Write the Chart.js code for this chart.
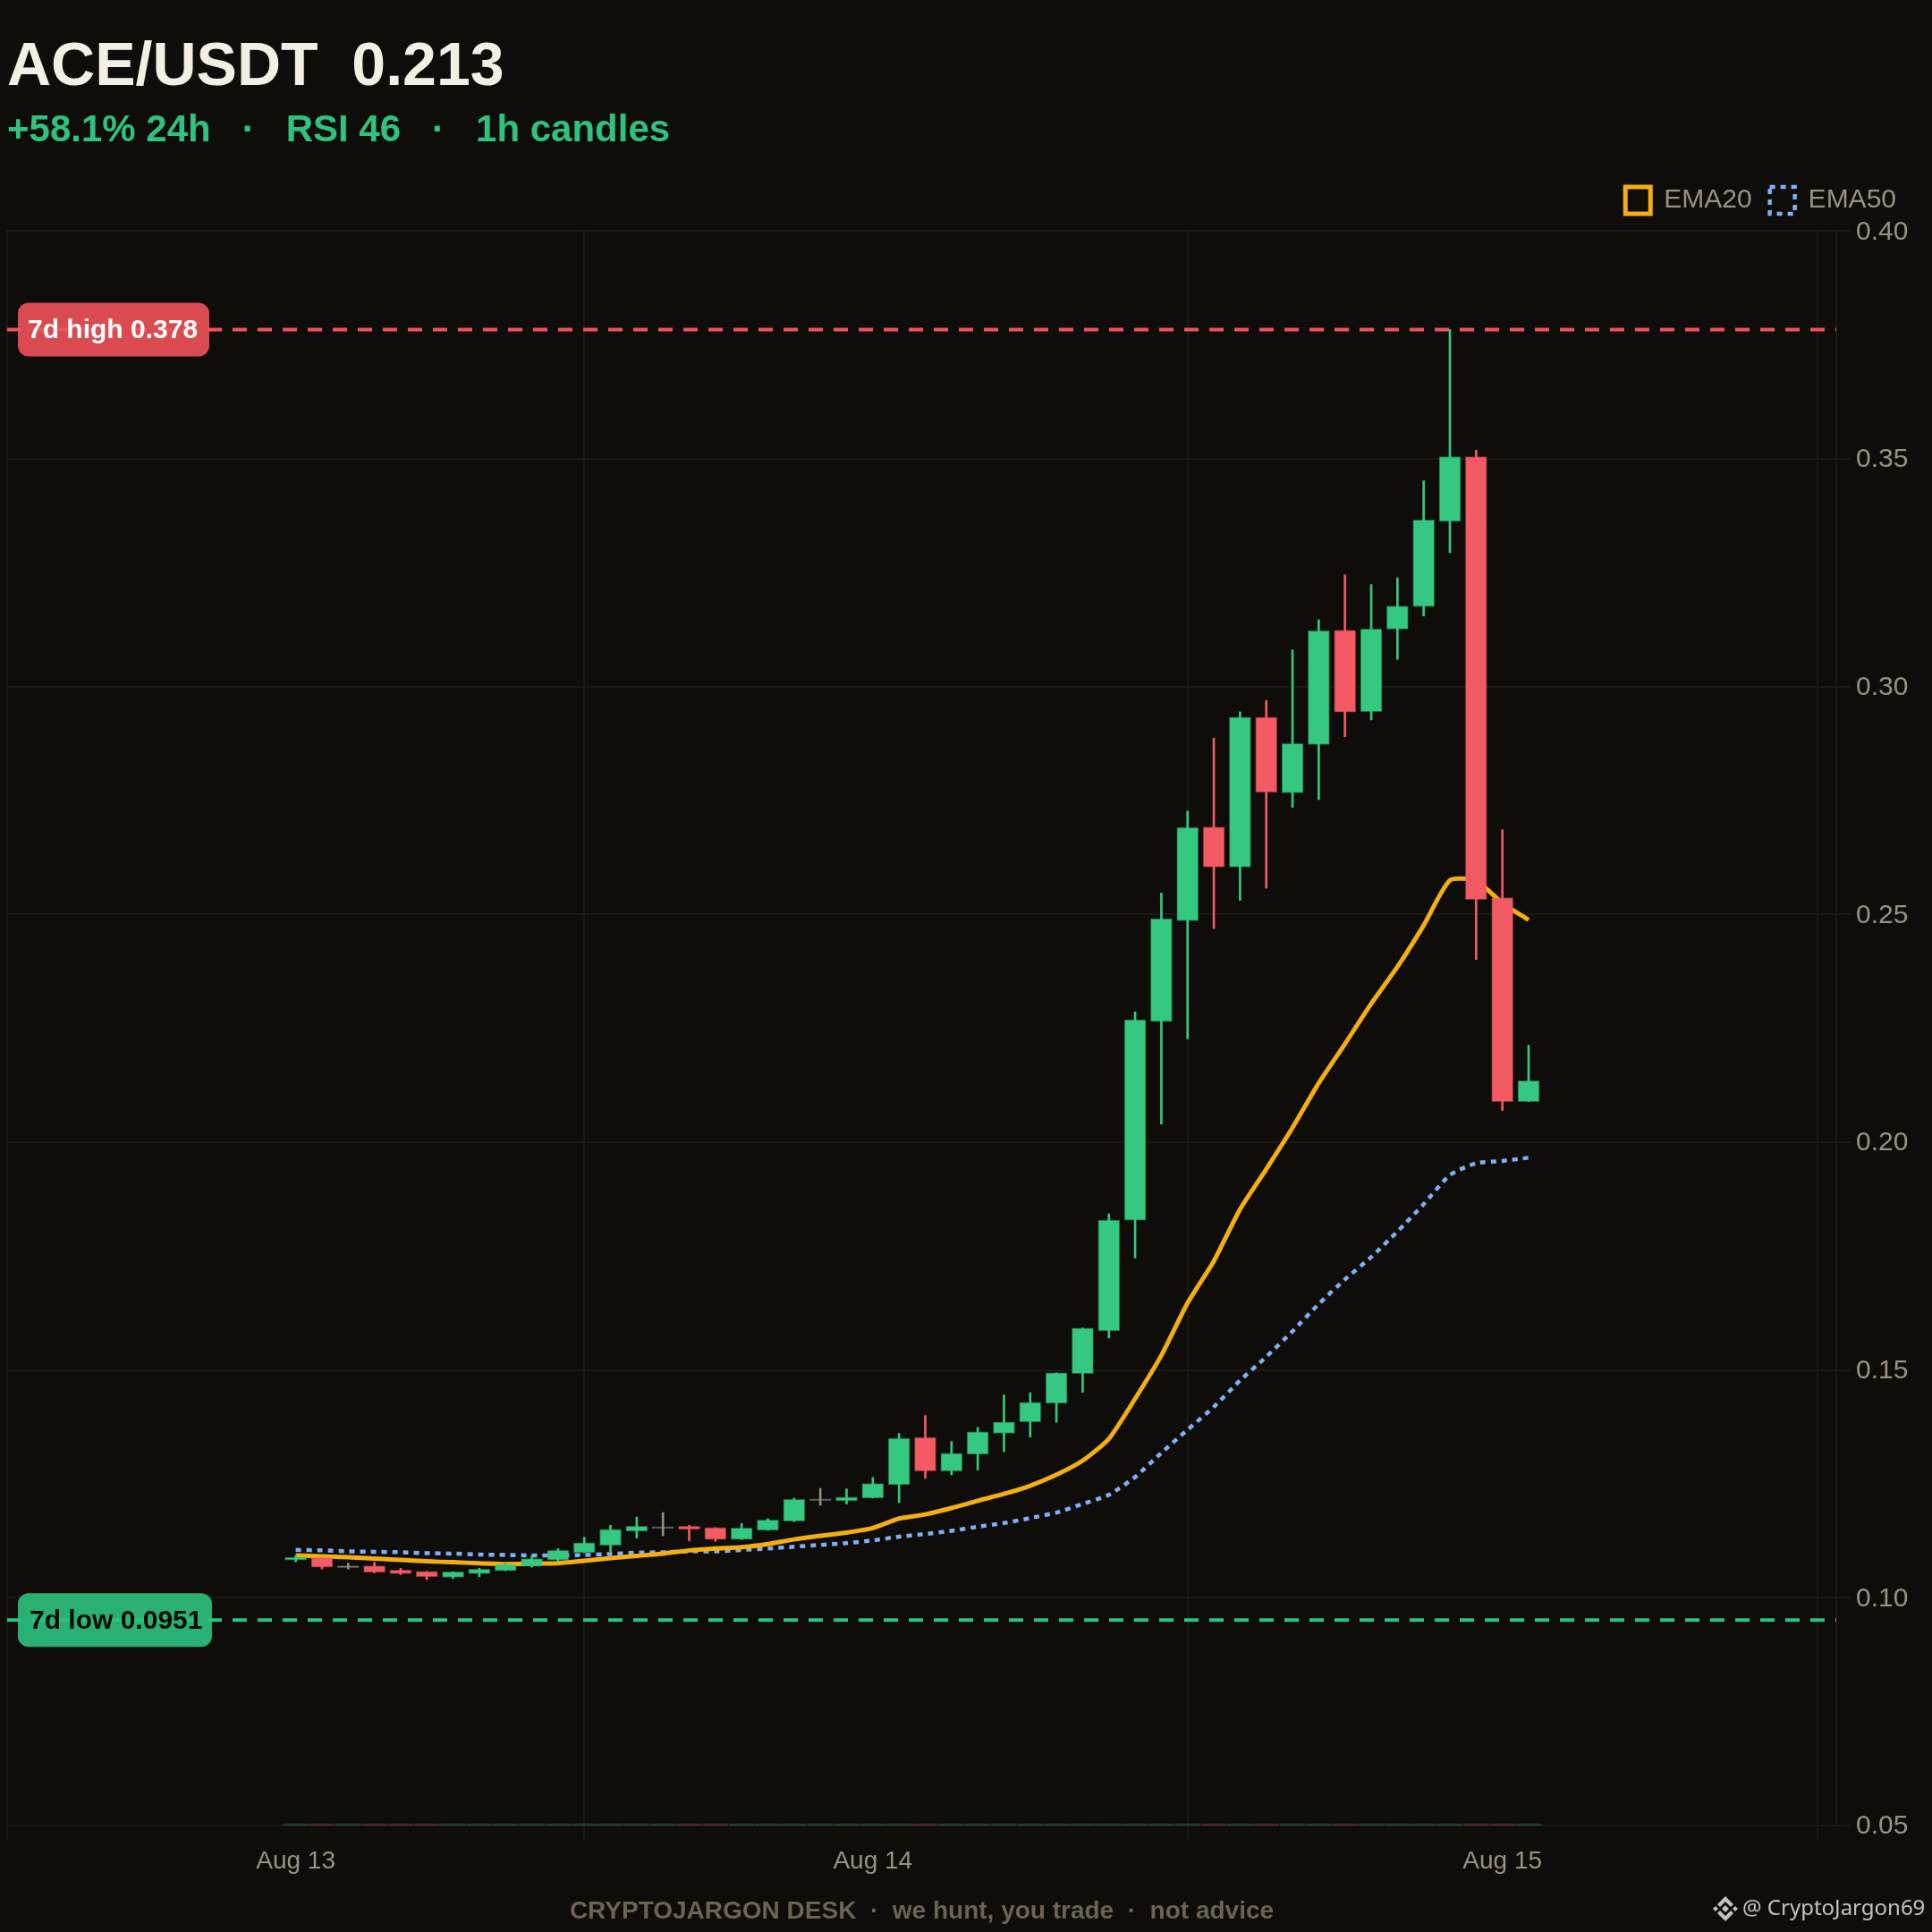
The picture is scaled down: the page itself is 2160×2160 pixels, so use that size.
<!DOCTYPE html>
<html>
<head>
<meta charset="utf-8">
<title>ACE/USDT</title>
<script src="https://cdn.jsdelivr.net/npm/chart.js@4"></script>
<style>
  html, body { margin: 0; padding: 0; background: #0e0d09; }
  canvas { display: block; }
</style>
</head>
<body>
<canvas id="myChart" width="2160" height="2160"></canvas>
<script>
// candles, one hour each, oldest first
var opens  = [.1083,.1088,.1068,.1070,.1061,.1058,.1045,.1053,.1059,.1069,.1083,.1099,.1115,.1146,.1154,.1157,.1154,.1128,.1148,.1168,.1215,.1213,.1219,.1248,.1352,.1278,.1315,.1361,.1386,.1427,.1492,.1586,.1829,.2265,.2486,.2692,.2604,.2933,.2767,.2873,.3124,.2945,.3126,.3176,.3363,.3505,.2537,.2089];
var closes = [.1089,.1067,.1068,.1056,.1053,.1046,.1057,.1063,.1073,.1086,.1104,.1121,.1150,.1157,.1154,.1150,.1128,.1153,.1171,.1216,.1215,.1221,.1251,.1350,.1278,.1317,.1364,.1386,.1429,.1494,.1592,.1829,.2269,.2491,.2691,.2604,.2933,.2768,.2875,.3123,.2944,.3127,.3177,.3366,.3505,.2533,.2089,.2135];
var highs  = [.1093,.1088,.1076,.1078,.1065,.1058,.1057,.1065,.1076,.1093,.1108,.1133,.1159,.1177,.1187,.1159,.1154,.1163,.1174,.1219,.1240,.1239,.1264,.1361,.1400,.1343,.1374,.1445,.1450,.1494,.1592,.1843,.2286,.2547,.2727,.2887,.2945,.2970,.3081,.3147,.3245,.3224,.3239,.3452,.3784,.3519,.2686,.2213];
var lows   = [.1079,.1063,.1063,.1055,.1051,.1040,.1042,.1046,.1059,.1067,.1080,.1099,.1099,.1131,.1136,.1125,.1124,.1128,.1148,.1167,.1203,.1206,.1219,.1209,.1262,.1270,.1280,.1321,.1353,.1385,.1451,.1570,.1746,.2040,.2227,.2469,.2531,.2558,.2735,.2752,.2890,.2927,.3060,.3155,.3294,.2401,.2070,.2089];

var ema20 = [.1093,.1091,.1089,.1086,.1083,.1080,.1078,.1076,.1074,.1075,.1076,.1081,.1087,.1092,.1097,.1104,.1108,.1111,.1118,.1128,.1136,.1143,.1153,.1174,.1183,.1197,.1213,.1228,.1246,.1270,.1301,.1349,.1437,.1532,.1647,.1739,.1853,.1941,.2032,.2130,.2216,.2304,.2385,.2476,.2575,.2574,.2525,.2488];
var ema50 = [.1105,.1104,.1102,.1101,.1100,.1098,.1097,.1095,.1094,.1093,.1093,.1094,.1096,.1099,.1100,.1102,.1102,.1105,.1108,.1112,.1116,.1120,.1126,.1134,.1140,.1147,.1156,.1164,.1175,.1187,.1206,.1226,.1265,.1318,.1369,.1419,.1477,.1529,.1585,.1645,.1699,.1748,.1804,.1864,.1928,.1954,.1959,.1966];

// which candle carries each date label
var xTickIndex  = [0, 22, 46];
var xTickLabels = ['Aug 13', 'Aug 14', 'Aug 15'];
var yTicks = [0.05, 0.10, 0.15, 0.20, 0.25, 0.30, 0.35, 0.40];

var levelValues = [0.3784, 0.0951];
var levelLabels = ['7d high 0.378', '7d low 0.0951'];

// candle colours
var green = '#34c880';
var red   = '#f45a64';
var grey  = '#968e80';
var font  = '"Liberation Sans", Arial, sans-serif';

var xMin = -11;
var xMax = 58.73;

function candleColor(i) {
  if (closes[i] === opens[i]) return grey;
  return closes[i] >= opens[i] ? green : red;
}

// doji candles still need a visible sliver of body
function bodyOf(i) {
  var o = opens[i], c = closes[i];
  if (o === c) return [o - 0.0002, o + 0.0002];
  return [o, c];
}

var bodies = opens.map(function (o, i) { return { x: i, y: bodyOf(i) }; });
var wicks  = opens.map(function (o, i) { return { x: i, y: [lows[i], highs[i]] }; });
var footPrints = opens.map(function (o, i) { return { x: i, y: [0.05, 0.0504] }; });
var ema20Points = ema20.map(function (v, i) { return { x: i, y: v }; });
var ema50Points = ema50.map(function (v, i) { return { x: i, y: v }; });

function levelLine(v) {
  return [{ x: xMin, y: v }, { x: xMax, y: v }];
}

// legend has no bottom margin option, so grow its box a little
var legendGapPlugin = {
  id: 'legendGap',
  beforeLayout: function (chart) {
    var legend = chart.legend;
    if (legend._gapDone) return;
    var fit = legend.fit;
    legend.fit = function () {
      fit.call(this);
      this.height += 9.4;
    };
    legend._gapDone = true;
  }
};

// pills on the 7d lines and the watermark in the corner
var pillsPlugin = {
  id: 'pills',
  afterDraw: function (chart) {
    var ctx = chart.ctx;
    var y = chart.scales.y;
    var fills = ['rgba(240,82,90,0.9)', 'rgba(46,194,126,0.9)'];
    var inks = ['#ffffff', '#0d0c08'];
    var lefts = [20, 20];
    var widths = [214, 217];
    var textLefts = [31, 33];
    ctx.save();
    levelValues.forEach(function (v, i) {
      var py = y.getPixelForValue(v);
      ctx.fillStyle = fills[i];
      ctx.beginPath();
      ctx.roundRect(lefts[i], py - 30, widths[i], 60, 12);
      ctx.fill();
      ctx.fillStyle = inks[i];
      ctx.font = 'bold 30px ' + font;
      ctx.textAlign = 'left';
      ctx.textBaseline = 'middle';
      ctx.fillText(levelLabels[i], textLefts[i], py + 1);
    });

    ctx.fillStyle = 'rgba(235,233,225,0.82)';
    ctx.font = '24px "Noto Sans", "Open Sans", sans-serif';
    ctx.textAlign = 'left';
    ctx.textBaseline = 'middle';
    ctx.fillText('@ CryptoJargon69', 1948, 2134);

    // small diamond logo
    var cx = 1929, cy = 2134;
    function diamond(x, y, r) {
      ctx.beginPath();
      ctx.moveTo(x, y - r); ctx.lineTo(x + r, y); ctx.lineTo(x, y + r); ctx.lineTo(x - r, y);
      ctx.closePath();
      ctx.fill();
    }
    diamond(cx, cy, 4);
    diamond(cx - 11, cy, 3);
    diamond(cx + 11, cy, 3);
    [-1, 1].forEach(function (s) {
      ctx.beginPath();
      ctx.moveTo(cx, cy + s * 14);
      ctx.lineTo(cx + 9, cy + s * 5);
      ctx.lineTo(cx + 6, cy + s * 2);
      ctx.lineTo(cx, cy + s * 8);
      ctx.lineTo(cx - 6, cy + s * 2);
      ctx.lineTo(cx - 9, cy + s * 5);
      ctx.closePath();
      ctx.fill();
    });
    ctx.restore();
  }
};

Chart.defaults.font.family = font;

new Chart(document.getElementById('myChart').getContext('2d'), {
  type: 'bar',
  plugins: [legendGapPlugin, pillsPlugin],
  data: {
    datasets: [
      {
        label: 'body',
        data: bodies,
        order: 1,
        grouped: false,
        barThickness: 24,
        borderWidth: 1,
        borderSkipped: false,
        backgroundColor: opens.map(function (o, i) { return candleColor(i); }),
        borderColor: opens.map(function (o, i) { return candleColor(i) + '77'; })
      },
      {
        label: 'wick',
        data: wicks,
        order: 2,
        grouped: false,
        barThickness: 2,
        backgroundColor: opens.map(function (o, i) { return candleColor(i); })
      },
      {
        label: 'foot',
        data: footPrints,
        order: 2,
        grouped: false,
        barThickness: 28,
        backgroundColor: opens.map(function (o, i) { return (closes[i] >= opens[i] ? green : red) + '44'; })
      },
      {
        type: 'line',
        label: 'EMA20',
        data: ema20Points,
        order: 3,
        borderColor: '#f5ae12',
        backgroundColor: 'transparent',
        borderWidth: 5,
        pointRadius: 0,
        tension: 0.2
      },
      {
        type: 'line',
        label: 'EMA50',
        data: ema50Points,
        order: 4,
        borderColor: '#82aef5',
        backgroundColor: 'transparent',
        borderWidth: 4.5,
        borderDash: [6, 6],
        pointRadius: 0,
        tension: 0.2
      },
      {
        type: 'line',
        label: 'high',
        data: levelLine(levelValues[0]),
        order: 5,
        borderColor: '#f0525a',
        borderWidth: 4,
        borderDash: [16, 12],
        pointRadius: 0
      },
      {
        type: 'line',
        label: 'low',
        data: levelLine(levelValues[1]),
        order: 5,
        borderColor: '#2ec27e',
        borderWidth: 4,
        borderDash: [16, 12],
        pointRadius: 0
      }
    ]
  },
  options: {
    responsive: false,
    animation: false,
    devicePixelRatio: 1,
    layout: { padding: { left: 8, right: 20, top: 0, bottom: 0 } },
    plugins: {
      tooltip: { enabled: false },
      title: {
        display: true,
        align: 'start',
        text: 'ACE/USDT  0.213',
        color: '#f4efe4',
        font: { size: 68, weight: 'bold', lineHeight: 1.2 },
        padding: { top: 35, bottom: 4 }
      },
      subtitle: {
        display: true,
        align: 'start',
        text: '+58.1% 24h   ·   RSI 46   ·   1h candles',
        color: '#2ec27e',
        font: { size: 42, weight: 'bold', lineHeight: 1.2 },
        padding: { top: 1, bottom: 17 }
      },
      legend: {
        display: true,
        position: 'top',
        align: 'end',
        labels: {
          color: '#999282',
          boxWidth: 28,
          padding: 20,
          font: { size: 30 },
          filter: function (item) { return item.text.indexOf('EMA') === 0; }
        }
      }
    },
    scales: {
      x: {
        type: 'linear',
        min: xMin,
        max: xMax,
        offset: false,
        grid: { offset: true, color: '#1a1915', lineWidth: 2, tickLength: 16 },
        border: { color: '#1a1915', width: 2 },
        afterBuildTicks: function (axis) {
          axis.ticks = xTickIndex.map(function (v) { return { value: v }; });
        },
        afterFit: function (axis) { axis.height = 119; },
        ticks: {
          autoSkip: false,
          maxRotation: 0,
          padding: 7,
          color: '#999282',
          font: { size: 28 },
          callback: function (v) { return xTickLabels[xTickIndex.indexOf(v)]; }
        },
        title: {
          display: true,
          text: 'CRYPTOJARGON DESK  ·  we hunt, you trade  ·  not advice',
          color: '#6b6354',
          font: { size: 28, weight: 'bold' },
          padding: { top: 0, bottom: 6 }
        }
      },
      y: {
        position: 'right',
        min: 0.05,
        max: 0.40,
        grid: { color: '#1a1915', lineWidth: 2, tickLength: 16 },
        border: { color: '#1a1915', width: 2 },
        afterBuildTicks: function (axis) {
          axis.ticks = yTicks.map(function (v) { return { value: v }; });
        },
        afterFit: function (axis) { axis.width = 87; },
        ticks: {
          padding: 6,
          labelOffset: 1,
          color: '#999282',
          font: { size: 30 },
          callback: function (v) { return v.toFixed(2); }
        }
      }
    }
  }
});
</script>
</body>
</html>
